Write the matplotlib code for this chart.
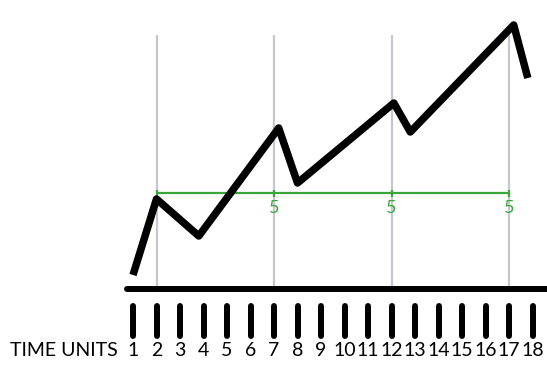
import matplotlib
matplotlib.use("Agg")
import matplotlib.pyplot as plt

# data
times = [1, 2, 3.8, 7.2, 8, 12.1, 12.8, 17.2, 17.8]
values = [15, 91, 54, 162, 107, 187, 158, 265, 212]
tick_units = list(range(1, 19))
tick_labels = [str(t) for t in tick_units]
grid_units = [2, 7, 12, 17]
period_labels = ["5", "5", "5"]
axis_label = "TIME UNITS"

fig = plt.figure(figsize=(5.47, 3.74), dpi=100)
ax = fig.add_axes([0, 0, 1, 1])
ax.set_xlim(1 - 133 / 23.5, 1 + 414 / 23.5)
ax.set_ylim(-84, 290)
ax.axis("off")

font = "Lato"
# grey vertical guides
ax.vlines(grid_units, 0, 255, color="#c6c6d2", lw=1.6, zorder=1)
# green period bar
green = "#3aa63a"
ax.hlines(97, grid_units[0], grid_units[-1], color=green, lw=1.6, zorder=2)
ax.vlines(grid_units, 93.5, 100.5, color=green, lw=1.6, zorder=2)
for g, lab in zip(grid_units[1:], period_labels):
    ax.text(g, 82, lab, color=green, ha="center", va="center", fontsize=13, family=font, zorder=2)

# main line
ax.plot(times, values, color="black", lw=5.4, solid_capstyle="butt", solid_joinstyle="round", zorder=3)

# time axis
ax.hlines(1, 0.75, 20, color="black", lw=4.3, capstyle="round", zorder=3)
ax.vlines(tick_units, -16, -46, color="black", lw=4.3, capstyle="round", zorder=3)
for t, lab in zip(tick_units, tick_labels):
    ax.text(t, -60, lab, ha="center", va="center", fontsize=14, family=font)
ax.text(1 - (133 - 10) / 23.5, -60, axis_label, ha="left", va="center", fontsize=14, family=font)

fig.savefig("out.png", dpi=100)
